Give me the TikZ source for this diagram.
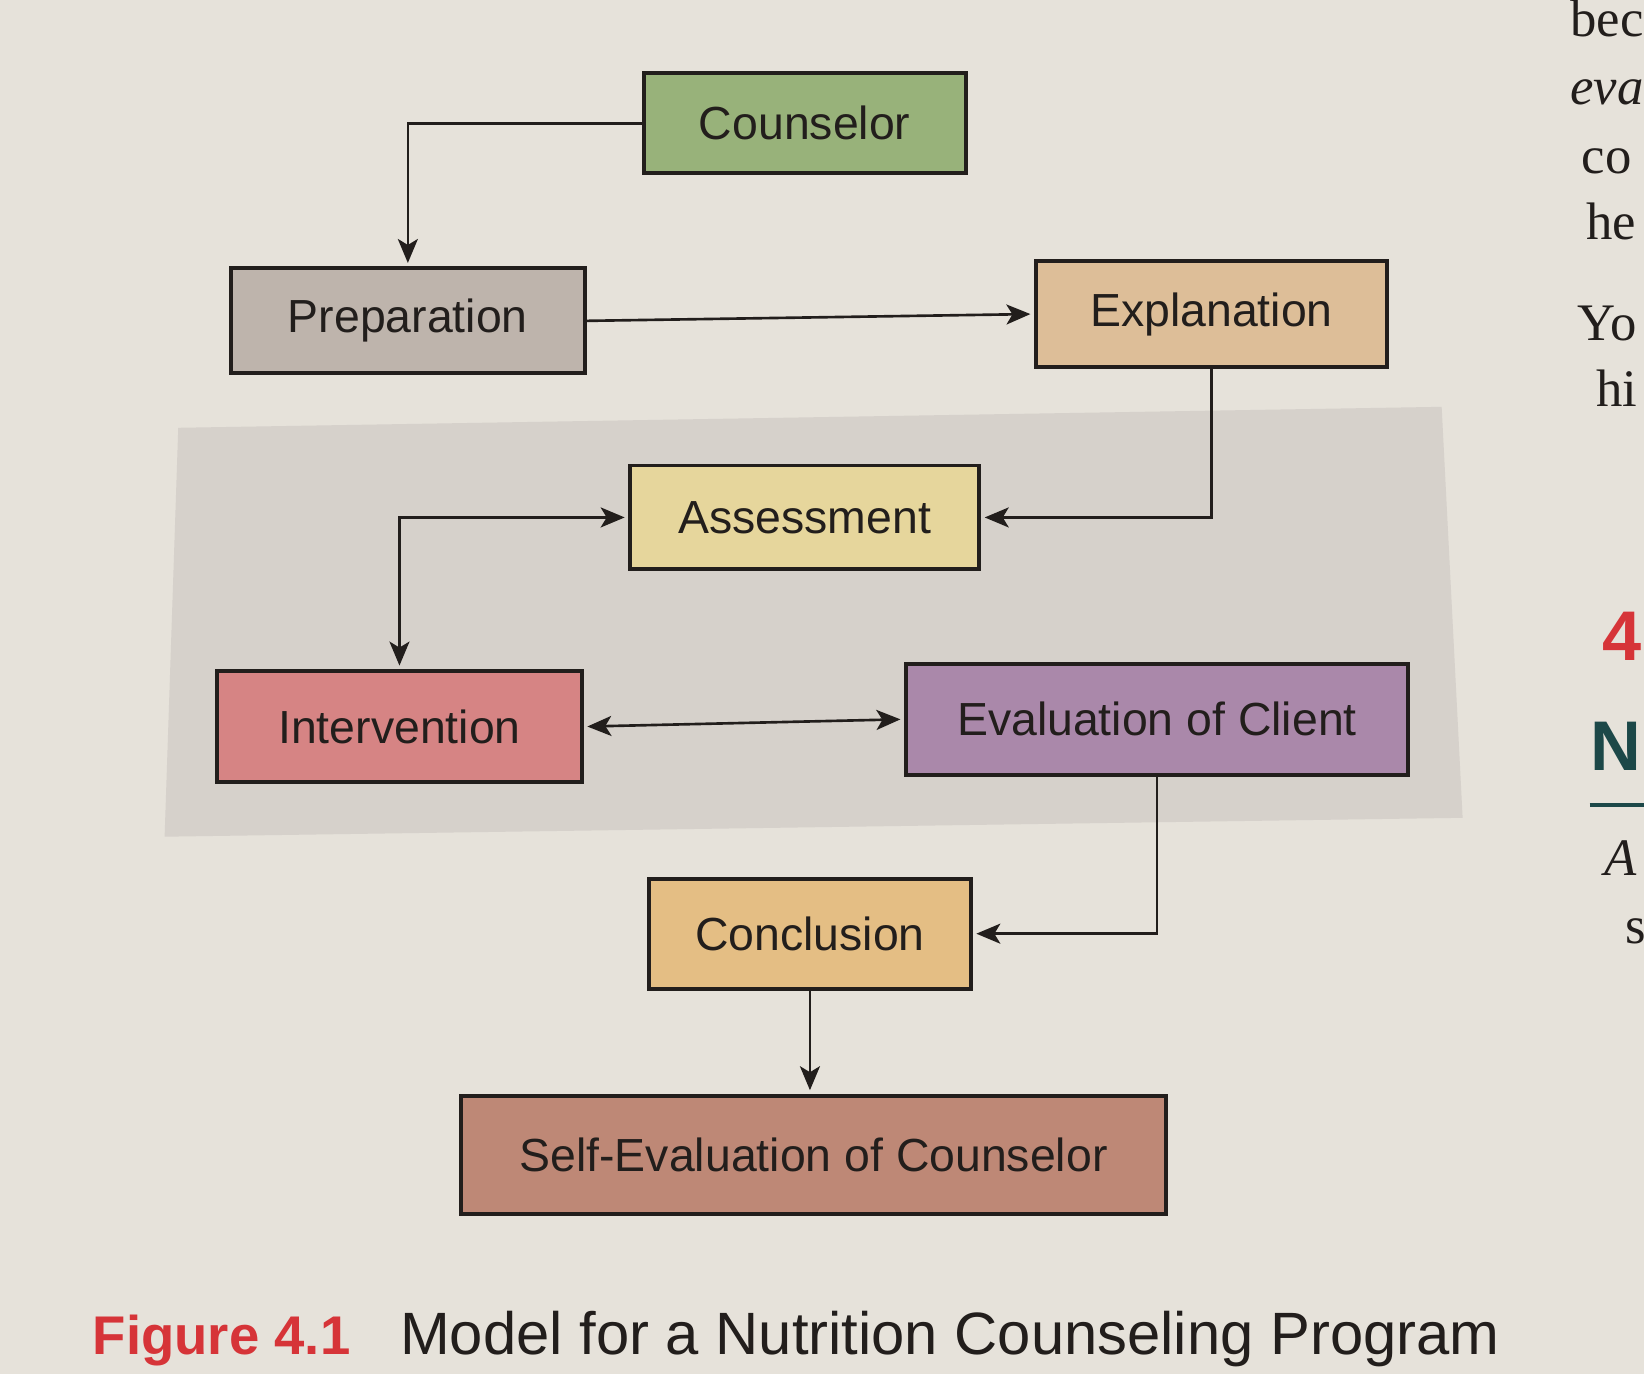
\documentclass[tikz,border=0pt]{standalone}
\usepackage{fontspec}
\setmainfont{Liberation Sans}
\newfontfamily\pageserif{Liberation Serif}
\usetikzlibrary{arrows.meta}
\definecolor{paper}{RGB}{230,226,218}
\definecolor{band}{RGB}{214,209,203}
\definecolor{ink}{RGB}{34,30,28}
\definecolor{counselgreen}{RGB}{152,178,122}
\definecolor{prepgrey}{RGB}{190,180,172}
\definecolor{explaintan}{RGB}{221,190,152}
\definecolor{assessyellow}{RGB}{230,214,156}
\definecolor{interpink}{RGB}{214,132,132}
\definecolor{evalpurple}{RGB}{170,136,170}
\definecolor{conclorange}{RGB}{228,190,132}
\definecolor{selfbrown}{RGB}{190,136,118}
\definecolor{figred}{RGB}{214,52,56}
\definecolor{headteal}{RGB}{28,72,72}
\def\px{0.010485cm}
\tikzset{
  stage/.style={draw=ink, line width=1.1pt, inner sep=0pt, text=ink,
    font=\fontsize{13.2}{16}\selectfont},
  dims/.style 2 args={minimum width=#1*\px, minimum height=#2*\px},
  link/.style={draw=ink, line width=0.75pt, shorten >=1pt,
    -{Stealth[length=2.4mm,width=2mm,inset=0.6mm]}},
  twolink/.style={link, shorten <=1pt,
    {Stealth[length=2.4mm,width=2mm,inset=0.6mm]}-{Stealth[length=2.4mm,width=2mm,inset=0.6mm]}},
  margintext/.style={anchor=base west, inner sep=0pt, text=ink,
    font=\pageserif\fontsize{15}{18}\selectfont},
}

\begin{document}
\begin{tikzpicture}[x=\px, y=-\px]
		%%%%% START %%%%%
		\useasboundingbox (0,0) rectangle (1568,1310);
		\fill[paper] (0,0) rectangle (1568,1310);
		\fill[band] (170,408) -- (1375,388) -- (1395,780) -- (157,798) -- cycle;
		
		\node[stage, dims={307}{95}, fill=counselgreen] (cou) at (767.5,117.5) {Counselor};
		\node[stage, dims={338}{100}, fill=prepgrey] (pre) at (389,306) {Preparation};
		\node[stage, dims={335}{101}, fill=explaintan] (exp) at (1155.5,299.5) {Explanation};
		\node[stage, dims={333}{99}, fill=assessyellow] (ass) at (767.5,493.5) {Assessment};
		\node[stage, dims={348}{106}, fill=interpink] (int) at (381,693) {Intervention};
		\node[stage, dims={479}{106}, fill=evalpurple] (eva) at (1103.5,686) {Evaluation of Client};
		\node[stage, dims={307}{105}, fill=conclorange] (con) at (772.5,890.5) {Conclusion};
		\node[stage, dims={672}{113}, fill=selfbrown] (sel) at (776,1101.5) {Self-Evaluation of Counselor};
		
		\draw[link] (cou.west) -| (pre.north);
		\draw[link] (pre.east) -- (exp.west);
		\draw[link] (exp.south) |- (ass.east);
		\draw[twolink] (ass.west) -| (int.north);
		\draw[twolink] (int.east) -- (eva.west);
		\draw[link] (eva.south) |- (con.east);
		\draw[link] (con.south) -- (con.south |- sel.north);
		
		\node[anchor=base west, inner sep=0pt, text=figred,
			font=\fontsize{15.5}{18}\selectfont\bfseries] (fig) at (88,1292) {Figure 4.1};
		\node[anchor=base west, inner sep=0pt, text=ink,
			font=\fontsize{17}{20}\selectfont] (cap) at (381,1292) {Model for a Nutrition Counseling Program};
		
		%% cut-off column on the right
		\node[margintext] (mbec) at (1497,35) {bec};
		\node[margintext, font=\pageserif\itshape\fontsize{15}{18}\selectfont] (meva) at (1497,100) {eva};
		\node[margintext] (mco) at (1508,165) {co};
		\node[margintext] (mhe) at (1512,228) {he};
		\node[margintext] (myo) at (1504,325) {Yo};
		\node[margintext] (mhi) at (1522,388) {hi};
		\node[margintext, text=figred, font=\bfseries\fontsize{20}{24}\selectfont] (mfour) at (1528,630) {4};
		\node[margintext, text=headteal, font=\bfseries\fontsize{20}{24}\selectfont] (mn) at (1516,735) {N};
		\draw[headteal, line width=1pt] (1516,768) -- (1568,768);
		\node[margintext, font=\pageserif\itshape\fontsize{15}{18}\selectfont] (ma) at (1530,835) {A};
		\node[margintext] (ms) at (1550,900) {s};
		%%%%% END %%%%%
\end{tikzpicture}
\end{document}
